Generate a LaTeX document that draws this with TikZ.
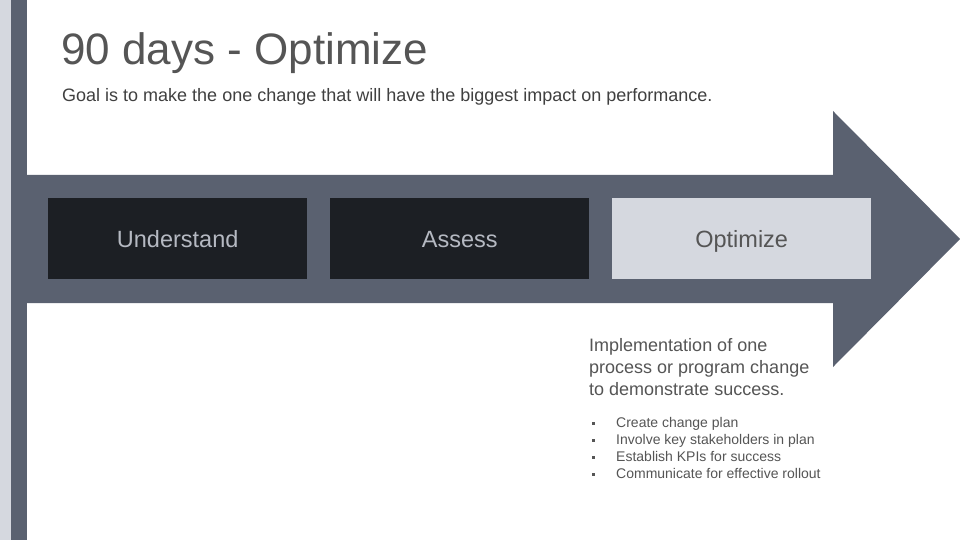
\documentclass[tikz,border=0pt]{standalone}
\usepackage{fontspec}
\setmainfont{Liberation Sans}
\definecolor{slate}{HTML}{5A6170}
\definecolor{lightslate}{HTML}{D5D8DF}
\definecolor{darkbox}{HTML}{1C1F24}
\definecolor{txtgray}{HTML}{555555}
\definecolor{txtdark}{HTML}{404040}
\definecolor{boxtxt}{HTML}{B5B9C2}
\tikzset{
  stage/.style={minimum width=259pt, minimum height=81pt, inner sep=0pt, anchor=north west,
    text height=17pt, text depth=0pt, font=\fontsize{23.5}{28}\selectfont},
  darkstage/.style={stage, fill=darkbox, text=boxtxt},
  lightstage/.style={stage, fill=lightslate, text=txtgray},
  desctxt/.style={anchor=base west, inner sep=0pt, text=txtgray, font=\fontsize{18}{22}\selectfont},
  bullettxt/.style={anchor=base west, inner sep=0pt, text=txtgray, font=\fontsize{14}{17}\selectfont},
  bulletmark/.style={fill=txtgray, minimum size=3pt, inner sep=0pt},
}
\begin{document}
\begin{tikzpicture}[x=1pt,y=-1pt]
\useasboundingbox (0,0) rectangle (960,540);
\fill[white] (0,0) rectangle (960,540);
% left strips
\fill[lightslate] (0,0) rectangle (11,540);
\fill[slate] (11,0) rectangle (27,540);
% arrow
\fill[slate] (27,175) -- (833,175) -- (833,111) -- (960,239) -- (833,367) -- (833,303) -- (27,303) -- cycle;
% title
\node[anchor=base west, inner sep=0pt, text=txtgray, font=\fontsize{44}{50}\selectfont] (title) at (61,65) {90 days - Optimize};
\node[anchor=base west, inner sep=0pt, text=txtdark, font=\fontsize{18}{21}\selectfont] (goal) at (62,102) {Goal is to make the one change that will have the biggest impact on performance.};
% stages
\node[darkstage] (s1) at (48,198) {Understand};
\node[darkstage] (s2) at (330,198) {Assess};
\node[lightstage] (s3) at (612,198) {Optimize};
% description
\node[desctxt] (d1) at (589,351) {Implementation of one};
\node[desctxt] (d2) at (589,373) {process or program change};
\node[desctxt] (d3) at (589,395) {to demonstrate success.};
% bullets
\node[bulletmark] (m1) at (593,423) {};
\node[bulletmark] (m2) at (593,440) {};
\node[bulletmark] (m3) at (593,457) {};
\node[bulletmark] (m4) at (593,474) {};
\node[bullettxt] (b1) at (616,427) {Create change plan};
\node[bullettxt] (b2) at (616,444) {Involve key stakeholders in plan};
\node[bullettxt] (b3) at (616,461) {Establish KPIs for success};
\node[bullettxt] (b4) at (616,478) {Communicate for effective rollout};
\end{tikzpicture}
\end{document}
